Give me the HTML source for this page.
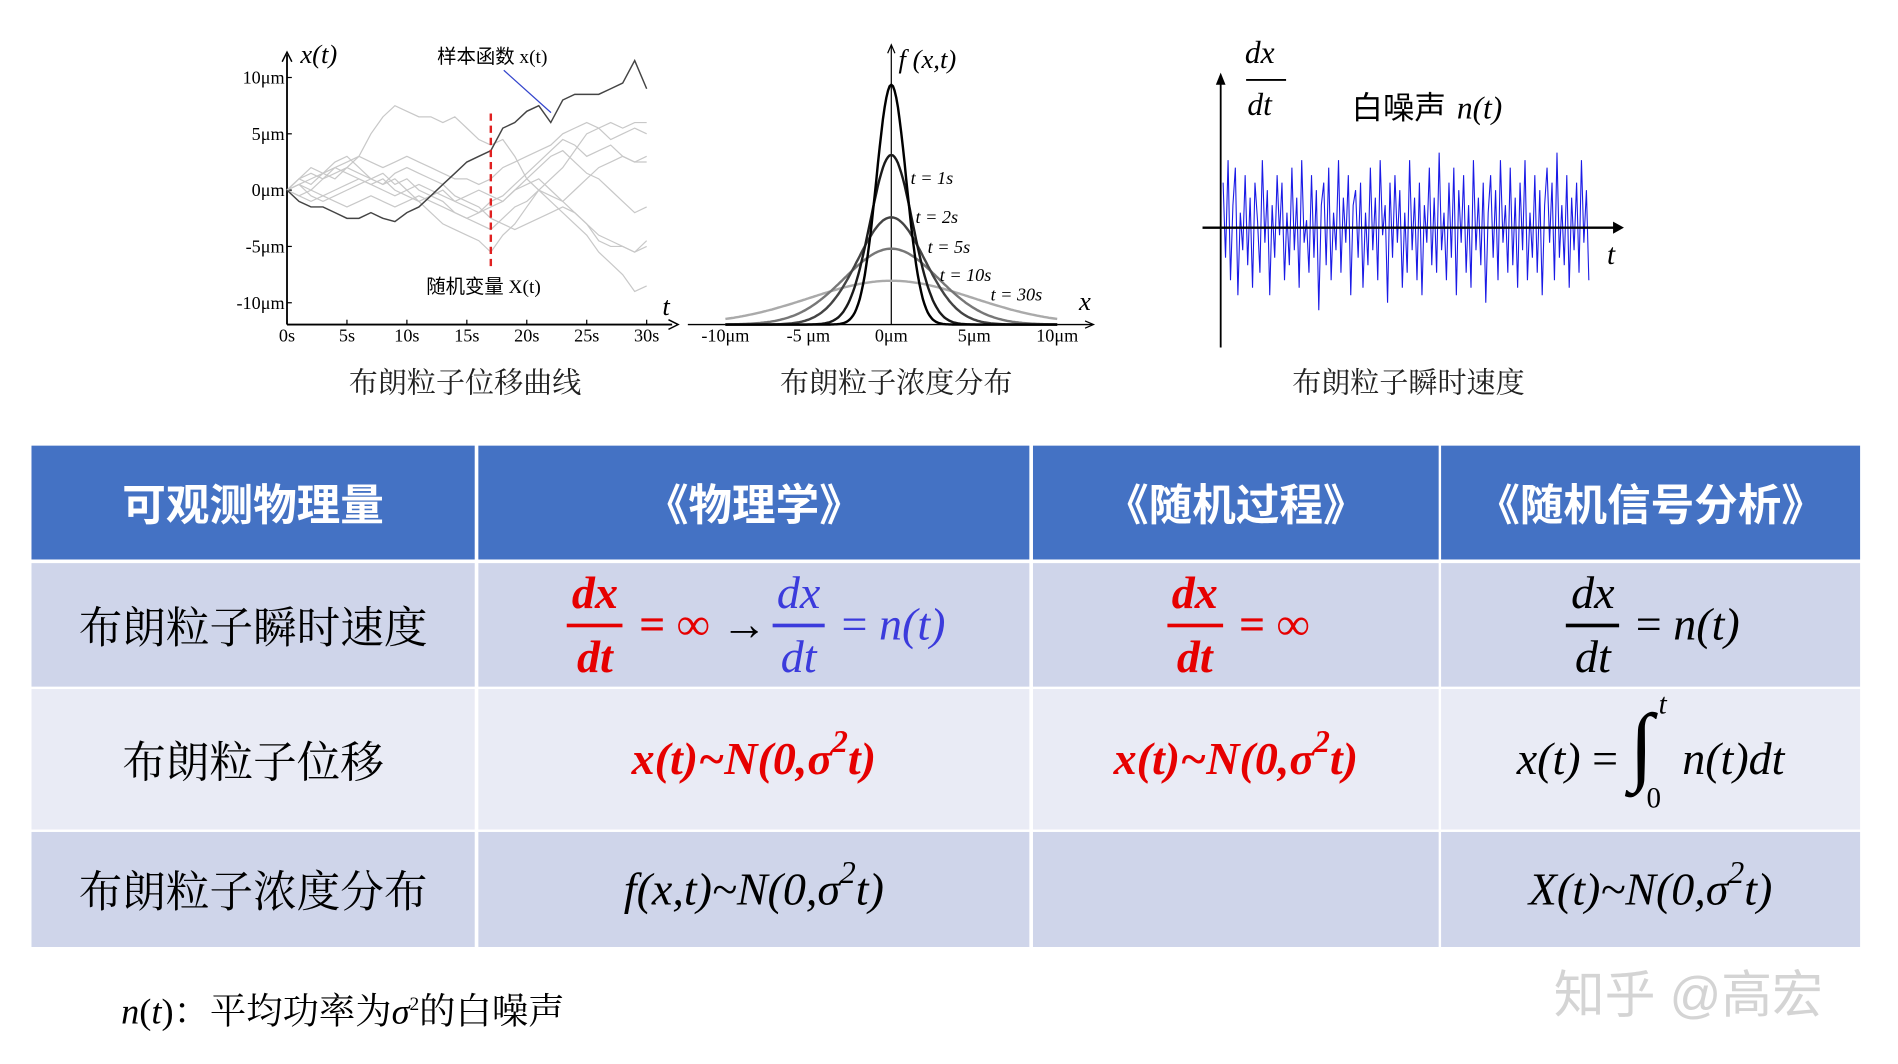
<!DOCTYPE html>
<html><head><meta charset="utf-8">
<style>
html,body{margin:0;padding:0;background:#fff;overflow:hidden}
#page{position:relative;width:1560px;height:874px;transform:scale(1.211,1.211);transform-origin:0 0;font-family:"Liberation Serif","Noto Serif CJK SC",serif}
.cell{position:absolute;display:flex;align-items:center;justify-content:center;box-sizing:border-box}
.hd{background:#4472c4;color:#fff;font-family:"Liberation Sans","Noto Sans CJK SC",sans-serif;font-weight:bold;font-size:36px}
.r1,.r3{background:#cfd5ea}
.r2{background:#e9ebf5}
.lab{font-family:"Liberation Serif","Noto Serif CJK SC",serif;font-size:36px;color:#000}
.m{font-family:"Liberation Serif",serif;font-style:italic;font-size:38px;white-space:nowrap;display:flex;align-items:center}
.m sup{font-size:26px;position:relative;top:-14px;vertical-align:baseline}
.up{font-style:normal}
.fr{display:inline-flex;flex-direction:column;align-items:center;margin:0 6px;line-height:1}
.fr span{padding:0 2px}
.fr .bar{height:3px;width:100%;background:currentColor;margin:6px 0}
.red{color:#e60000;font-weight:bold}
.blue{color:#3b3bdc}
.cap{position:absolute;font-family:"Liberation Serif","Noto Serif CJK SC",serif;font-size:24px;color:#222;transform:translateX(-50%);white-space:nowrap}
</style></head>
<body>
<div id="page">
<svg id="charts" width="1560" height="874" style="position:absolute;left:0;top:0" font-family="Liberation Serif, serif">
<g id="c1"></g>
<g id="c2"></g>
<g id="c3"></g>
</svg>

<div class="cap" style="left:384px;top:296px">布朗粒子位移曲线</div>
<div class="cap" style="left:740px;top:296px">布朗粒子浓度分布</div>
<div class="cap" style="left:1163px;top:296px">布朗粒子瞬时速度</div>

<div class="cell hd" style="left:26px;top:368px;width:366px;height:94px">可观测物理量</div>
<div class="cell hd" style="left:395px;top:368px;width:455px;height:94px">《物理学》</div>
<div class="cell hd" style="left:853px;top:368px;width:335px;height:94px">《随机过程》</div>
<div class="cell hd" style="left:1190px;top:368px;width:346px;height:94px">《随机信号分析》</div>

<div class="cell r1 lab" style="left:26px;top:465px;width:366px;height:102px">布朗粒子瞬时速度</div>
<div class="cell r1" style="left:395px;top:465px;width:455px;height:102px">
 <div class="m"><span class="fr red"><span>dx</span><span class="bar"></span><span>dt</span></span><span class="red up">&nbsp;= ∞&nbsp;</span><span class="up">→</span><span class="fr blue"><span>dx</span><span class="bar"></span><span>dt</span></span><span class="blue"><span class="up">&nbsp;=&nbsp;</span>n(t)</span></div></div>
<div class="cell r1" style="left:853px;top:465px;width:335px;height:102px">
 <div class="m"><span class="fr red"><span>dx</span><span class="bar"></span><span>dt</span></span><span class="red up">&nbsp;= ∞</span></div></div>
<div class="cell r1" style="left:1190px;top:465px;width:346px;height:102px">
 <div class="m"><span class="fr"><span>dx</span><span class="bar"></span><span>dt</span></span><span class="up">&nbsp;=&nbsp;</span>n(t)</div></div>

<div class="cell r2 lab" style="left:26px;top:569px;width:366px;height:116px">布朗粒子位移</div>
<div class="cell r2" style="left:395px;top:569px;width:455px;height:116px"><div class="m red">x(t)~N(0,σ<sup>2</sup>t)</div></div>
<div class="cell r2" style="left:853px;top:569px;width:335px;height:116px"><div class="m red">x(t)~N(0,σ<sup>2</sup>t)</div></div>
<div class="cell r2" style="left:1190px;top:569px;width:346px;height:116px"><div class="m">x(t)<span class="up">&nbsp;=&nbsp;</span><span style="position:relative;display:inline-block;width:34px;height:60px"><span class="up" style="position:absolute;left:0;top:-18px;font-size:72px;line-height:1">∫</span><span style="position:absolute;left:24px;top:-28px;font-size:24px">t</span><span class="up" style="position:absolute;left:14px;top:50px;font-size:24px">0</span></span>&nbsp;n(t)dt</div></div>

<div class="cell r3 lab" style="left:26px;top:687px;width:366px;height:95px">布朗粒子浓度分布</div>
<div class="cell r3" style="left:395px;top:687px;width:455px;height:95px"><div class="m">f(x,t)~N(0,σ<sup>2</sup>t)</div></div>
<div class="cell r3" style="left:853px;top:687px;width:335px;height:95px"></div>
<div class="cell r3" style="left:1190px;top:687px;width:346px;height:95px"><div class="m">X(t)~N(0,σ<sup>2</sup>t)</div></div>

<div style="position:absolute;left:100px;top:810px;font-size:30px;white-space:nowrap"><i>n</i>(<i>t</i>)：平均功率为<i>σ</i><sup style="font-size:16px">2</sup>的白噪声</div>
<div style="position:absolute;left:1283px;top:788px;font-size:42px;color:#d4d4d4;font-family:'Liberation Sans','Noto Sans CJK SC',sans-serif;white-space:nowrap">知乎 @高宏</div>
</div>

<script>
const c1Times = [0,1,2,3,4,5,6,7,8,9,10,11,12,13,14,15,16,17,18,19,20,21,22,23,24,25,26,27,28,29,30];
const c1Sample = [0,-1,-1.5,-1.5,-2,-2.5,-2.5,-2,-2.5,-2.8,-2,-1.5,-0.5,0.5,1.5,2.5,3,3.5,5.5,6,7,7.5,6,8,8.5,8.5,8.5,9,9.5,11.5,9];
const c1Gray1 = [0,0.5,1,1.5,1,2,3,5,6.5,7.5,7,6.5,6.5,6,6.5,5.5,4.5,4,4.5,3,1,0,-1,-2,-3,-4,-5.5,-6.5,-7.5,-9,-8.5];
const c1Gray2 = [0,1,1.5,1,2,1.5,1,0.5,1,0,-0.5,-1,-2,-3,-3.5,-4,-4.5,-5.5,-4,-3,-1.5,0,1,2,3.5,5,5.5,6,5.5,6,6];
const c1Gray3 = [0,-0.5,0,1,1.5,2,1.5,1,0.5,1,0,-1,-0.5,-1,-2,-2.5,-2,-1.5,-1,0,0.5,1,0,-1,-2,-3,-4,-4.5,-5,-5.5,-5];
const c1Gray4 = [0,1,2,1.5,2.5,3,2,1,1.5,0.5,1,0,-0.5,0,-1,-1.5,-2,-1,-0.5,0.5,1.5,2.5,3.5,4.5,4,3,3.5,4,3,2.5,2.5];
const c1Gray5 = [0,0.5,-0.5,-1,-0.5,0,0.5,1,0.5,1.5,2,1.5,1,0.5,-0.5,-1,-1.5,-2.5,-3,-3.5,-3,-2.5,-2,-1.5,-2,-3,-4.5,-5,-5,-5.5,-4.5];
const c1Gray6 = [0,-0.5,-1,-0.5,0,0.5,1,0.5,0,-0.5,0,0.5,0,-0.5,-1,-0.5,0,-0.5,-1,0,1,2,3,3.5,2.5,1.5,1,0,-1,-2,-1.5];
const c1Gray7 = [0,1,0.5,1.5,2,2.5,3,2.5,2,2.5,3,2.5,2,1.5,1,1,0.5,1,2,2.5,3,3.5,4,5,5.5,6,5.5,4.5,5,5.5,5];
const c1Gray8 = [0,0.5,0,-0.5,-1,-1.5,-1,-0.5,-1,-1.5,-1,-0.5,-1,-1.5,-2,-2.5,-3,-3.5,-2.5,-1.5,-1,0,-0.5,-1,0,1,2,2.5,3,2.5,3];
const c1XTicks = [0,5,10,15,20,25,30];
const c1XLabels = ['0s','5s','10s','15s','20s','25s','30s'];
const c1YTicks = [10,5,0,-5,-10];
const c1YLabels = ['10μm','5μm','0μm','-5μm','-10μm'];
const c1Marker = 17;

const c2Times = [1,2,5,10,30];
const c2Labels = ['t = 1s','t = 2s','t = 5s','t = 10s','t = 30s'];
const c2Colors = ['#000','#1a1a1a','#444','#777','#aaa'];
const c2XTicks = [-10,-5,0,5,10];
const c2XLabels = ['-10μm','-5 μm','0μm','5μm','10μm'];

const c3Noise = [0.6,-0.4,0.9,-0.7,0.3,0.8,-0.9,0.2,-0.3,0.7,-0.5,0.4,-0.8,0.6,0.1,-0.6,0.9,-0.2,0.5,-0.9,0.3,-0.4,0.7,-0.1,0.6,-0.7,0.2,-0.5,0.8,-0.3,
 0.4,-0.8,0.9,-0.2,0.1,-0.6,0.7,-0.4,0.5,-1.1,0.3,0.6,-0.5,0.8,-0.7,0.2,-0.3,0.9,-0.6,0.4,-0.2,0.7,-0.9,0.3,0.5,-0.4,0.6,-0.8,0.2,-0.5,
 0.8,-0.3,0.4,-0.7,0.9,-0.1,0.3,-1.0,0.6,-0.4,0.7,-0.2,0.5,-0.8,0.2,-0.6,0.9,-0.3,0.4,-0.7,0.6,-0.9,0.3,-0.2,0.8,-0.5,0.4,-0.6,1.0,-0.3,
 0.2,-0.7,0.6,-0.4,0.8,-0.9,0.5,-0.2,0.7,-0.6,0.3,-0.8,0.9,-0.3,0.4,-0.5,0.6,-1.0,0.2,0.7,-0.4,0.5,-0.7,0.9,-0.2,0.3,-0.6,0.8,-0.5,0.4,
 -0.8,0.6,-0.3,0.9,-0.7,0.2,-0.4,0.7,-0.6,0.5,-0.9,0.3,0.8,-0.2,0.6,-0.7,1.0,-0.4,0.3,-0.5,0.7,-0.8,0.4,-0.3,0.6,-0.6,0.9,-0.2,0.5,-0.7];

const NS='http://www.w3.org/2000/svg';
function mk(parent,tag,attrs){const e=document.createElementNS(NS,tag);for(const k in attrs)e.setAttribute(k,attrs[k]);parent.appendChild(e);return e;}
function txt(parent,x,y,s,size,extra){const e=mk(parent,'text',Object.assign({x:x,y:y,'font-size':size},extra||{}));e.textContent=s;return e;}

const g1=document.getElementById('c1');
const x1=t=>237+t*9.9, y1=v=>157-v*9.3;
let e;
e=mk(g1,'line',{x1:237,y1:268,x2:555,y2:268,stroke:'#000','stroke-width':1.5});


e=mk(g1,'line',{x1:237,y1:268,x2:237,y2:45,stroke:'#000','stroke-width':1.5});


mk(g1,'path',{d:'M233,51 L237,43 L241,51',fill:'none',stroke:'#000','stroke-width':1.2});
mk(g1,'path',{d:'M552,264 L560,268 L552,272',fill:'none',stroke:'#000','stroke-width':1.2});
c1XTicks.forEach((t,i)=>{mk(g1,'line',{x1:x1(t),y1:268,x2:x1(t),y2:264,stroke:'#000'});
 e=txt(g1,x1(t),282,c1XLabels[i],15,{'text-anchor':'middle'});
 
 });
c1YTicks.forEach((v,i)=>{mk(g1,'line',{x1:237,y1:y1(v),x2:241,y2:y1(v),stroke:'#000'});
 e=txt(g1,235,y1(v)+5,c1YLabels[i],15,{'text-anchor':'end'});
 
 });
const pathD=(arr)=>arr.map((v,i)=>(i?'L':'M')+x1(c1Times[i]).toFixed(1)+','+y1(v).toFixed(1)).join(' ');
[c1Gray1,c1Gray2,c1Gray3,c1Gray4,c1Gray5,c1Gray6,c1Gray7,c1Gray8].forEach(a=>{
 e=mk(g1,'path',{d:pathD(a),fill:'none',stroke:'#c8c8c8','stroke-width':1});
 
 });
e=mk(g1,'path',{d:pathD(c1Sample),fill:'none',stroke:'#444','stroke-width':1.2});


e=mk(g1,'line',{x1:x1(c1Marker),y1:y1(6.8),x2:x1(c1Marker),y2:y1(-7),stroke:'#e02020','stroke-width':2,'stroke-dasharray':'6,4'});


mk(g1,'line',{x1:416,y1:58,x2:455,y2:93,stroke:'#3344cc','stroke-width':1});
txt(g1,248,52,'x(t)',22,{'font-style':'italic'});
txt(g1,361,52,'样本函数 x(t)',16);
txt(g1,352,242,'随机变量 X(t)',16);
txt(g1,547,260,'t',22,{'font-style':'italic'});

const g2=document.getElementById('c2');
const x2=v=>736+v*13.7, y2=h=>268-h;
mk(g2,'line',{x1:568,y1:268,x2:902,y2:268,stroke:'#000','stroke-width':1.2});
mk(g2,'path',{d:'M896,265 L903,268 L896,271',fill:'none',stroke:'#000'});
mk(g2,'line',{x1:736,y1:268,x2:736,y2:38,stroke:'#000','stroke-width':1});
mk(g2,'path',{d:'M733,44 L736,37 L739,44',fill:'none',stroke:'#000'});
c2XTicks.forEach((v,i)=>{e=txt(g2,x2(v),282,c2XLabels[i],15,{'text-anchor':'middle'});
 
 });
c2Times.slice().reverse().forEach((t,ri)=>{const i=c2Times.length-1-ri;
 const sig=0.9*Math.sqrt(t), pk=198/Math.sqrt(t); let d='';
 for(let v=-10;v<=10.001;v+=0.1){d+=(d?'L':'M')+x2(v).toFixed(1)+','+y2(pk*Math.exp(-v*v/(2*sig*sig))).toFixed(1);}
 e=mk(g2,'path',{d:d,fill:'none',stroke:c2Colors[i],'stroke-width':2});
 
 });
const c2LabPos=[[752,152],[756,184],[766,209],[776,232],[818,248]];
c2Labels.forEach((s,i)=>{e=txt(g2,c2LabPos[i][0],c2LabPos[i][1],s,15,{'font-style':'italic'});
 
 });
txt(g2,742,56,'f (x,t)',22,{'font-style':'italic'});
txt(g2,891,256,'x',22,{'font-style':'italic'});

const g3=document.getElementById('c3');
const x3=i=>1010+i*(302/(c3Noise.length-1)), y3=v=>188-v*62;
let d3=c3Noise.map((v,i)=>(i?'L':'M')+x3(i).toFixed(1)+','+y3(v).toFixed(1)).join(' ');
e=mk(g3,'path',{d:d3,fill:'none',stroke:'#1a1ae6','stroke-width':0.9});


mk(g3,'line',{x1:993,y1:188,x2:1334,y2:188,stroke:'#000','stroke-width':2});
mk(g3,'path',{d:'M1332,183 L1341,188 L1332,193 Z',fill:'#000'});
mk(g3,'line',{x1:1008,y1:287,x2:1008,y2:66,stroke:'#000','stroke-width':1.5});
mk(g3,'path',{d:'M1004,70 L1008,60 L1012,70 Z',fill:'#000'});
txt(g3,1028,52,'dx',26,{'font-style':'italic'});
mk(g3,'line',{x1:1029,y1:66,x2:1062,y2:66,stroke:'#000','stroke-width':1.5});
txt(g3,1030,95,'dt',26,{'font-style':'italic'});
txt(g3,1116,98,'白噪声',26);
txt(g3,1203,98,'n(t)',26,{'font-style':'italic'});
txt(g3,1327,218,'t',24,{'font-style':'italic'});
</script>
</body></html>
